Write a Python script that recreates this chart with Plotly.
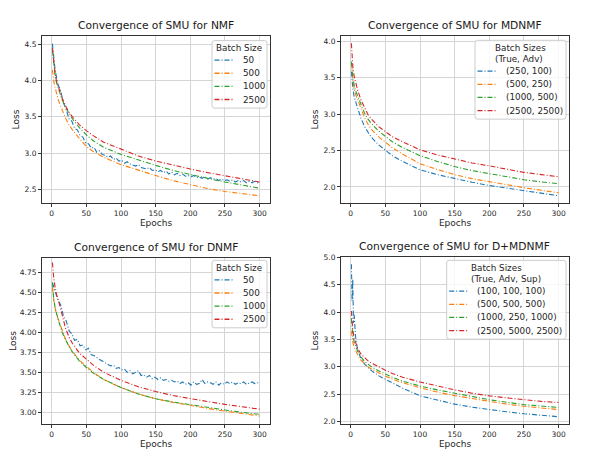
import plotly.graph_objects as go
from plotly.subplots import make_subplots

COLORS = ["#1f77b4", "#ff7f0e", "#2ca02c", "#d62728"]
DASH = "5px,2px,1px,2px"
FONT = "DejaVu Sans"
TXT = "#262626"

EPOCHS = [1, 2, 3, 5, 7, 10, 15, 20, 25, 30, 40, 50, 60, 75, 100, 125, 150,
          175, 200, 225, 250, 275, 300]
# every 4th epoch for the noisy small-batch runs
EPOCHS_NOISY = list(range(1, 298, 4)) + [300]
# D+MDNMF smallest batch has a spiky start
EPOCHS_SPIKE = [1, 2, 3, 4, 5, 6, 7, 10, 15, 20, 25, 30, 40, 50, 60, 75, 100,
                125, 150, 175, 200, 225, 250, 275, 300]

# --- NMF ---
NMF_NAMES = ["50", "500", "1000", "2500"]
NMF_50 = [
    4.51, 4.14, 3.95, 3.86, 3.69, 3.60, 3.47, 3.44, 3.34, 3.32,
    3.24, 3.22, 3.14, 3.13, 3.07, 3.08, 3.01, 3.03, 2.98, 2.97,
    2.94, 2.96, 2.91, 2.93, 2.89, 2.90, 2.86, 2.88, 2.85, 2.84,
    2.82, 2.84, 2.80, 2.79, 2.78, 2.80, 2.76, 2.77, 2.74, 2.76,
    2.73, 2.75, 2.71, 2.74, 2.70, 2.72, 2.69, 2.71, 2.68, 2.69,
    2.67, 2.69, 2.66, 2.67, 2.65, 2.68, 2.64, 2.66, 2.64, 2.65,
    2.62, 2.64, 2.62, 2.63, 2.61, 2.63, 2.60, 2.62, 2.60, 2.62,
    2.59, 2.61, 2.59, 2.61, 2.59, 2.61,
]
NMF_500 = [4.15, 4.06, 3.99, 3.90, 3.82, 3.72, 3.60, 3.48, 3.39, 3.32, 3.20,
           3.09, 3.02, 2.94, 2.84, 2.76, 2.69, 2.62, 2.56, 2.51, 2.47, 2.44, 2.41]
NMF_1000 = [4.42, 4.30, 4.20, 4.06, 3.97, 3.88, 3.74, 3.63, 3.54, 3.47, 3.35,
            3.25, 3.17, 3.08, 2.98, 2.90, 2.83, 2.76, 2.70, 2.65, 2.60, 2.555, 2.515]
NMF_2500 = [4.45, 4.33, 4.23, 4.09, 3.99, 3.90, 3.76, 3.65, 3.56, 3.50, 3.39,
            3.31, 3.24, 3.15, 3.05, 2.96, 2.89, 2.83, 2.78, 2.73, 2.685, 2.64, 2.60]

# --- MDNMF ---
MD_NAMES = ["(250, 100)", "(500, 250)", "(1000, 500)", "(2500, 2500)"]
MD_250 = [3.58, 3.45, 3.36, 3.24, 3.16, 3.08, 2.94, 2.83, 2.75, 2.68, 2.58,
          2.50, 2.43, 2.35, 2.235, 2.17, 2.115, 2.065, 2.02, 1.985, 1.95, 1.915, 1.88]
MD_500 = [3.70, 3.58, 3.48, 3.35, 3.27, 3.20, 3.06, 2.95, 2.86, 2.79, 2.69,
          2.61, 2.54, 2.45, 2.32, 2.24, 2.17, 2.115, 2.07, 2.03, 1.99, 1.955, 1.92]
MD_1000 = [3.72, 3.60, 3.51, 3.40, 3.32, 3.25, 3.12, 3.01, 2.93, 2.87, 2.77,
           2.69, 2.62, 2.54, 2.43, 2.35, 2.28, 2.225, 2.18, 2.14, 2.10, 2.07, 2.045]
MD_2500 = [3.97, 3.78, 3.66, 3.52, 3.43, 3.33, 3.19, 3.08, 2.99, 2.93, 2.83,
           2.76, 2.69, 2.62, 2.51, 2.44, 2.38, 2.33, 2.29, 2.245, 2.20, 2.17, 2.14]

# --- DNMF ---
DN_NAMES = ["50", "500", "1000", "2500"]
DN_50 = [
    4.62, 4.52, 4.40, 4.34, 4.20, 4.14, 4.02, 3.98, 3.90, 3.91,
    3.83, 3.84, 3.78, 3.80, 3.72, 3.71, 3.68, 3.66, 3.64, 3.62,
    3.61, 3.58, 3.59, 3.55, 3.56, 3.53, 3.54, 3.50, 3.52, 3.48,
    3.50, 3.52, 3.46, 3.47, 3.44, 3.46, 3.42, 3.44, 3.41, 3.43,
    3.40, 3.41, 3.39, 3.40, 3.38, 3.39, 3.36, 3.38, 3.35, 3.37,
    3.34, 3.38, 3.35, 3.36, 3.41, 3.36, 3.38, 3.37, 3.35, 3.38,
    3.34, 3.37, 3.35, 3.38, 3.36, 3.38, 3.35, 3.37, 3.36, 3.38,
    3.35, 3.37, 3.38, 3.36, 3.37, 3.36,
]
DN_500 = [4.56, 4.47, 4.40, 4.30, 4.22, 4.15, 4.02, 3.91, 3.83, 3.76, 3.65,
          3.57, 3.50, 3.41, 3.31, 3.23, 3.17, 3.125, 3.085, 3.05, 3.015, 2.985, 2.955]
DN_1000 = [4.62, 4.50, 4.41, 4.30, 4.22, 4.14, 4.00, 3.90, 3.82, 3.75, 3.64,
           3.56, 3.49, 3.41, 3.31, 3.23, 3.17, 3.13, 3.095, 3.06, 3.03, 3.00, 2.975]
DN_2500 = [4.87, 4.76, 4.67, 4.56, 4.47, 4.39, 4.20, 4.05, 3.94, 3.86, 3.74,
           3.66, 3.59, 3.50, 3.40, 3.32, 3.26, 3.21, 3.17, 3.135, 3.10, 3.07, 3.04]

# --- D+MDNMF ---
DM_NAMES = ["(100, 100, 100)", "(500, 500, 500)", "(1000, 250, 1000)", "(2500, 5000, 2500)"]
DM_100 = [4.87, 4.20, 4.60, 3.80, 3.95, 3.70, 3.55, 3.30, 3.15, 3.05, 2.98,
          2.93, 2.84, 2.77, 2.70, 2.61, 2.47, 2.39, 2.32, 2.265, 2.22, 2.18,
          2.145, 2.115, 2.09]
DM_500 = [3.65, 3.52, 3.45, 3.36, 3.30, 3.22, 3.12, 3.05, 3.00, 2.96, 2.89,
          2.83, 2.78, 2.71, 2.62, 2.54, 2.475, 2.42, 2.37, 2.32, 2.28, 2.25, 2.22]
DM_1000 = [3.88, 3.70, 3.58, 3.45, 3.37, 3.29, 3.18, 3.10, 3.05, 3.00, 2.93,
           2.87, 2.81, 2.74, 2.65, 2.58, 2.515, 2.46, 2.40, 2.35, 2.31, 2.285, 2.26]
DM_2500 = [4.02, 3.82, 3.68, 3.52, 3.43, 3.34, 3.23, 3.16, 3.11, 3.07, 3.00,
           2.94, 2.88, 2.81, 2.725, 2.65, 2.58, 2.52, 2.47, 2.435, 2.40, 2.37, 2.35]

panels = [
    dict(title="Convergence of SMU for NMF", legend_title=["Batch Size"],
         names=NMF_NAMES,
         xs=[EPOCHS_NOISY, EPOCHS, EPOCHS, EPOCHS],
         ys=[NMF_50, NMF_500, NMF_1000, NMF_2500],
         yrange=[2.305, 4.62], dtick=0.5, fmt=".1f"),
    dict(title="Convergence of SMU for MDNMF", legend_title=["Batch Sizes", "(True, Adv)"],
         names=MD_NAMES,
         xs=[EPOCHS] * 4,
         ys=[MD_250, MD_500, MD_1000, MD_2500],
         yrange=[1.775, 4.075], dtick=0.5, fmt=".1f"),
    dict(title="Convergence of SMU for DNMF", legend_title=["Batch Size"],
         names=DN_NAMES,
         xs=[EPOCHS_NOISY, EPOCHS, EPOCHS, EPOCHS],
         ys=[DN_50, DN_500, DN_1000, DN_2500],
         yrange=[2.85, 4.93], dtick=0.25, fmt=".2f"),
    dict(title="Convergence of SMU for D+MDNMF", legend_title=["Batch Sizes", "(True, Adv, Sup)"],
         names=DM_NAMES,
         xs=[EPOCHS_SPIKE, EPOCHS, EPOCHS, EPOCHS],
         ys=[DM_100, DM_500, DM_1000, DM_2500],
         yrange=[1.95, 5.01], dtick=0.5, fmt=".1f"),
]

# the page body has an 8px margin, so the figure is drawn 8px in from the corner
OFF = 8
W, H = 590 - OFF, 457 - OFF
# pixel boxes of the four axes (window coordinates)
boxes = [(42, 270, 32, 202), (341, 569, 32, 202),
         (42, 270, 257, 426), (341, 569, 256, 426)]
# legend boxes: (left, right, top) in window pixels
legend_boxes = [(212, 267, 37), (475, 566, 36.7), (212, 267, 259.7), (446.7, 566, 259.7)]


def px(x):
    return (x - OFF) / W


def py(y):
    return 1 - (y - OFF) / H


def rounded_box(x0, x1, y0, y1, r=2.5):
    rx, ry = r / W, r / H
    a0, a1, b0, b1 = px(x0), px(x1), py(y1), py(y0)
    return (f"M{a0 + rx},{b0} L{a1 - rx},{b0} Q{a1},{b0} {a1},{b0 + ry} "
            f"L{a1},{b1 - ry} Q{a1},{b1} {a1 - rx},{b1} L{a0 + rx},{b1} "
            f"Q{a0},{b1} {a0},{b1 - ry} L{a0},{b0 + ry} Q{a0},{b0} {a0 + rx},{b0} Z")


fig = make_subplots(rows=2, cols=2)
annotations = []
shapes = []
for i, p in enumerate(panels):
    row, col = i // 2 + 1, i % 2 + 1
    for name, x, y, color in zip(p["names"], p["xs"], p["ys"], COLORS):
        fig.add_trace(go.Scatter(x=x, y=y, mode="lines", name=name, showlegend=False,
                                 line=dict(color=color, width=1.1, dash=DASH)),
                      row=row, col=col)
    x0, x1, y0, y1 = boxes[i]
    xd = [px(x0), px(x1)]
    yd = [py(y1), py(y0)]
    axis_common = dict(showline=True, linecolor="#333", linewidth=1, mirror=True,
                       showgrid=True, gridcolor="#d5d5d5", gridwidth=1, zeroline=False,
                       ticks="outside", ticklen=3, tickcolor="#333",
                       tickfont=dict(family=FONT, size=7.5, color=TXT))
    fig.update_xaxes(domain=xd, range=[-14, 315], tick0=0, dtick=50,
                     title=dict(text="Epochs", font=dict(family=FONT, size=9, color=TXT),
                                standoff=2),
                     row=row, col=col, **axis_common)
    fig.update_yaxes(domain=yd, range=p["yrange"], dtick=p["dtick"], tickformat=p["fmt"],
                     title=dict(text="Loss", font=dict(family=FONT, size=9, color=TXT),
                                standoff=3),
                     row=row, col=col, **axis_common)
    annotations.append(dict(text=p["title"], x=(xd[0] + xd[1]) / 2, y=yd[1],
                            xref="paper", yref="paper", xanchor="center", yanchor="bottom",
                            yshift=2, showarrow=False,
                            font=dict(family=FONT, size=10.7, color="#1a1a1a")))

    # legend, drawn like matplotlib's: rounded box, title, dash-dot samples
    lx0, lx1, ltop = legend_boxes[i]
    n_title = len(p["legend_title"])
    title_c = ltop + 7.3 + 11.5 * (n_title - 1) / 2
    first_row = ltop + 7.3 + 11.5 * (n_title - 1) + 12.5
    row_gap = 13.3
    lbottom = first_row + row_gap * 3 + 8.7
    shapes.append(dict(type="path", path=rounded_box(lx0, lx1, ltop, lbottom),
                       xref="paper", yref="paper", fillcolor="rgba(255,255,255,0.8)",
                       line=dict(color="#cccccc", width=1), layer="above"))
    annotations.append(dict(text="<br>".join(p["legend_title"]), x=px((lx0 + lx1) / 2),
                            y=py(title_c), xref="paper", yref="paper", xanchor="center",
                            yanchor="middle", align="left", showarrow=False,
                            font=dict(family=FONT, size=8.8, color=TXT)))
    for k, (name, color) in enumerate(zip(p["names"], COLORS)):
        ry = first_row + row_gap * k
        shapes.append(dict(type="line", xref="paper", yref="paper",
                           x0=px(lx0 + 2.5), x1=px(lx0 + 21), y0=py(ry), y1=py(ry),
                           line=dict(color=color, width=1.3, dash=DASH), layer="above"))
        annotations.append(dict(text=name, x=px(lx0 + 28.5), y=py(ry),
                                xref="paper", yref="paper", xanchor="left",
                                yanchor="middle", showarrow=False,
                                font=dict(family=FONT, size=8.8, color=TXT)))

fig.update_layout(width=W, height=H, margin=dict(l=0, r=0, t=0, b=0),
                  paper_bgcolor="white", plot_bgcolor="white",
                  annotations=annotations, shapes=shapes, showlegend=False,
                  font=dict(family=FONT))

fig.write_html("out.html")
